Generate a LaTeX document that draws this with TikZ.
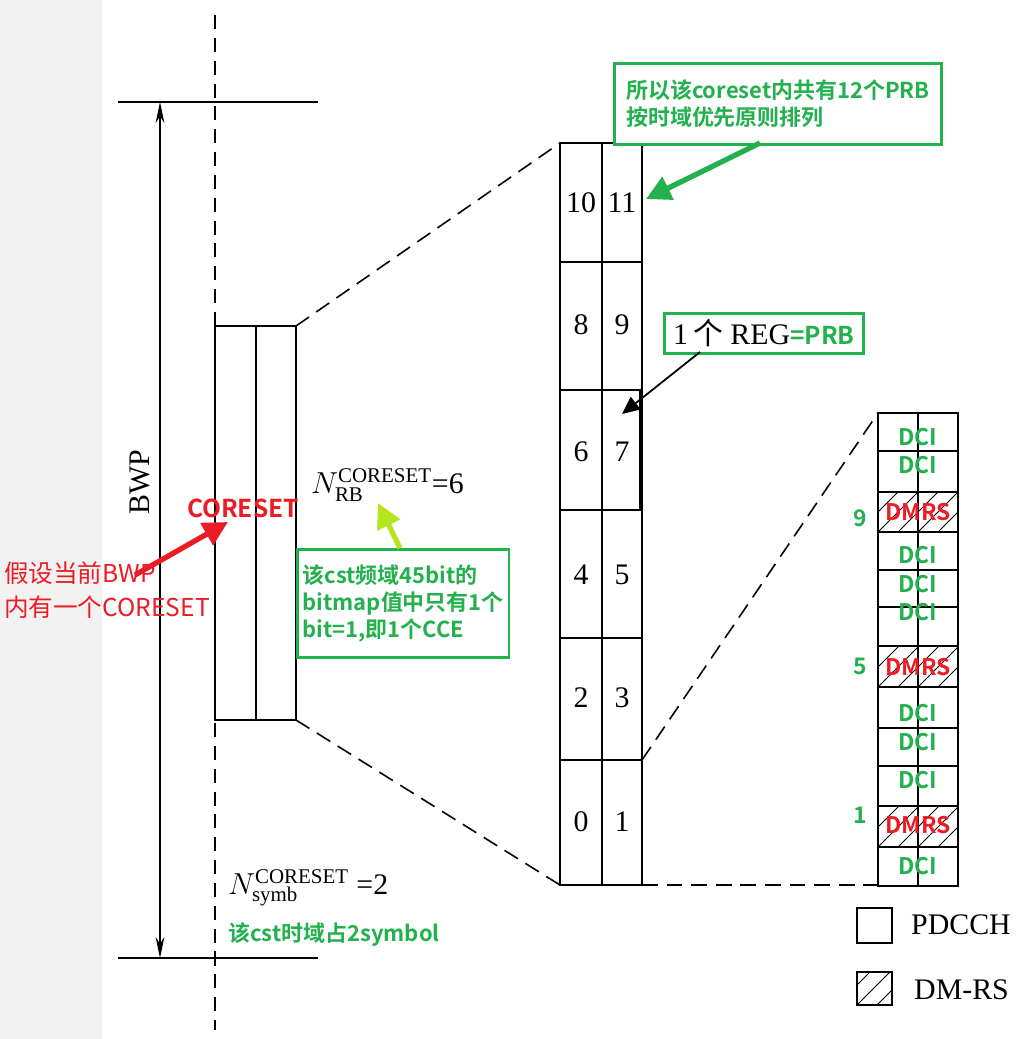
\documentclass[tikz,border=0pt]{standalone}
\usepackage{fontspec}
\setmainfont{Liberation Serif}
\newfontfamily\cjk{Noto Sans CJK SC}
\newfontfamily\cjkb{Noto Sans CJK SC Bold}
\usetikzlibrary{arrows.meta}
\definecolor{gr}{HTML}{22B14C}
\definecolor{rd}{HTML}{ED1C24}
\definecolor{lg}{HTML}{B5E61D}
\newcommand{\hatchbox}[4]{\begin{scope}\clip (#1,#2) rectangle (#3,#4);
  \foreach \k in {-60,-40,...,100} \draw[line width=0.5pt] (#1+\k,#4) -- ++(50,-50);\end{scope}}
\begin{document}
\begin{tikzpicture}[x=0.02cm,y=-0.02cm,
  ln/.style={line width=0.7pt},
  dsh/.style={line width=0.9pt,dash pattern=on 9pt off 5pt},
  gbox/.style={draw=gr,line width=1.6pt,fill=white},
  gt/.style={text=gr,font=\cjkb\fontsize{12.5}{15.5}\selectfont,align=left},
  dci/.style={text=gr,font=\cjkb\fontsize{13}{14}\selectfont},
  dm/.style={text=rd,font=\cjkb\fontsize{13}{14}\selectfont},
  num/.style={font=\fontsize{17}{18}\selectfont}]
\useasboundingbox (0,0) rectangle (1021,1039);
\fill[white] (0,0) rectangle (1021,1039);
\fill[black!5] (0,0) rectangle (102,1039);
\draw[ln,dash pattern=on 8pt off 5pt] (215,15) -- (215,1030);
\draw[ln] (118,102) -- (318,102);
\draw[ln] (118,958) -- (318,958);
\coordinate (bt) at (160,102); \coordinate (bb) at (160,958);
\draw[ln,{Stealth[length=12pt,width=5pt]}-{Stealth[length=12pt,width=5pt]}] (bt) -- (bb);
\node[rotate=90,num] (bwp) at (140,482) {BWP};
\draw[ln] (215,326) rectangle (296,720);
\draw[ln] (256,326) -- (256,720);
\coordinate (c1) at (296,326); \coordinate (c2) at (296,720);
\draw[ln] (560,143) rectangle (642,885);
\draw[ln] (602,143) -- (602,885);
\foreach \y in {262,390,510,638,760} \draw[ln] (560,\y) -- (642,\y);
\draw[line width=1.4pt] (602,390) rectangle (640,510);
\foreach \a/\b/\y in {10/11/203,8/9/325,6/7/452,4/5/575,2/3/698,0/1/822}{
  \node[num] at (581,\y) {\a}; \node[num] at (622,\y) {\b};}
\draw[dsh] (c1) -- (560,143);
\draw[dsh] (c2) -- (560,885);
\draw[dsh] (642,760) -- (878,413);
\draw[dsh] (642,885) -- (878,885);
\hatchbox{878}{492}{958}{532}
\hatchbox{878}{646}{958}{687}
\hatchbox{878}{806}{958}{847}
\draw[ln] (878,413) rectangle (958,886);
\draw[ln] (918,413) -- (918,886);
\foreach \y in {451,492,532,570,607,646,687,728,766,806,847} \draw[ln] (878,\y) -- (958,\y);
\foreach \y in {437,465,555,584,612,713,742,780,866} \node[dci] at (918,\y) {DCI};
\foreach \y in {512,667,825} \node[dm] at (918,\y) {DMRS};
\node[dci] at (860,518) {9};
\node[dci] at (860,666) {5};
\node[dci] at (860,815) {1};
\draw[ln] (857,908) rectangle (892,943);
\node[num,anchor=west] at (905,925) {PDCCH};
\hatchbox{857}{972}{892}{1005}
\draw[ln] (857,972) rectangle (892,1005);
\node[num,anchor=west] at (908,990) {DM-RS};
\node[num,anchor=west] (nrb) at (305,485) {$N_{\mathrm{RB}}^{\mathrm{CORESET}}$=6};
\node[num,anchor=west] (nsy) at (222,888) {$N_{\mathrm{symb}}^{\mathrm{CORESET}}$\ =2};
\node[gt,anchor=west] at (222,935) {该cst时域占2symbol};
\node[dm,font=\cjkb\fontsize{14}{14}\selectfont] (cs) at (243,508) {CORESET};
\node[text=rd,font=\cjk\fontsize{14}{19}\selectfont,align=left,anchor=west] (bw) at (-2,590) {假设当前BWP\\内有一个CORESET};
\draw[rd,line width=3pt,-{Triangle[length=14pt,width=14pt]}] (135,575) -- (228,522);
\node[gbox,gt,minimum width=207*0.02cm,minimum height=108*0.02cm,inner sep=3pt,anchor=north west] (b1) at (296,548) {该cst频域45bit的\\bitmap值中只有1个\\bit=1,即1个CCE};
\draw[lg,line width=3pt,-{Triangle[length=14pt,width=14pt]}] (400,548) -- (378,503);
\node[gbox,gt,minimum width=327*0.02cm,minimum height=81*0.02cm,inner sep=4pt,anchor=north west] (b2) at (613,62) {所以该coreset内共有12个PRB\\按时域优先原则排列};
\draw[gr,line width=3pt,-{Triangle[length=14pt,width=14pt]}] (760,143) -- (646,199);
\node[gbox,minimum width=199*0.02cm,minimum height=40*0.02cm,anchor=north west] (b3) at (663,312) {\fontsize{17}{18}\selectfont 1\,{\cjk 个} REG{\cjkb\color{gr}\fontsize{14}{14}\selectfont =PRB}};
\draw[line width=1pt,-{Triangle[length=10pt,width=9pt]}] (700,352) -- (622,414);
\end{tikzpicture}
\end{document}
